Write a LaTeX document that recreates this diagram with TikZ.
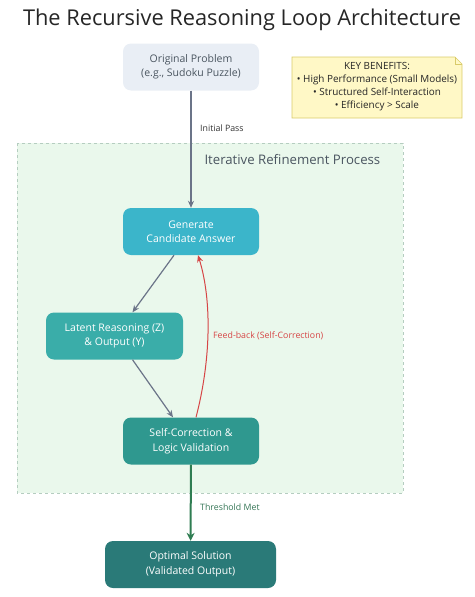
\documentclass[tikz,border=0pt]{standalone}
\usepackage{fontspec}
\setmainfont{Open Sans}
\usetikzlibrary{arrows.meta, positioning}

\definecolor{probfill}{HTML}{E9EEF5}
\definecolor{genfill}{HTML}{3BB5CA}
\definecolor{latfill}{HTML}{3AADA9}
\definecolor{chkfill}{HTML}{2F988F}
\definecolor{optfill}{HTML}{2A7A78}
\definecolor{zonefill}{HTML}{EAF8EC}
\definecolor{zoneline}{HTML}{B5CDC0}
\definecolor{notefill}{HTML}{FFF8C6}
\definecolor{noteline}{HTML}{D9CB6A}
\definecolor{flowline}{HTML}{6B7488}
\definecolor{feedred}{HTML}{D64545}
\definecolor{passgreen}{HTML}{2F7D52}
\definecolor{labelgrey}{HTML}{4A5560}

\begin{document}
\begin{tikzpicture}[
	x=1pt, y=-1pt,
	BoxNode/.style={rounded corners=8pt, align=center,
		minimum width=136pt, minimum height=47pt, inner sep=2pt,
		font=\fontsize{10.5}{14.5}\selectfont, text=white},
	FlowArrow/.style={draw=flowline, line width=1.2pt, -{Stealth[length=7pt,width=6pt]}},
	EdgeLabel/.style={anchor=west, font=\fontsize{8.8}{10}\selectfont, inner sep=0pt}
	]

\useasboundingbox (0,0) rectangle (474,597);

% title
\node (title) at (242,20) {\fontsize{21.8}{26}\selectfont\color{black!85}The Recursive Reasoning Loop Architecture};

% refinement zone
\draw [dashed, draw=zoneline, fill=zonefill, line width=0.6pt] (17,143) rectangle (403,493);
\node [anchor=west, font=\fontsize{13.2}{15}\selectfont, text=labelgrey] (zone) at (201,160) {Iterative Refinement Process};

% key benefits note
\draw [fill=notefill, draw=noteline, line width=0.6pt] (292,57) -- (455,57) -- (462,64) -- (462,118) -- (292,118) -- cycle;
\draw [draw=noteline, line width=0.6pt] (455,57) -- (455,64) -- (462,64);
\node [align=center, font=\fontsize{9.9}{13}\selectfont, text=black!85] (benefits) at (377,86.5)
	{KEY BENEFITS:\\ \textbullet{} High Performance (Small Models)\\ \textbullet{} Structured Self-Interaction\\ \textbullet{} Efficiency > Scale};

% boxes
\node [BoxNode, fill=probfill, text=labelgrey] (problem) at (191,67) {Original Problem\\(e.g., Sudoku Puzzle)};
\node [BoxNode, fill=genfill] (gen) at (191,231.5) {Generate\\Candidate Answer};
\node [BoxNode, fill=latfill, minimum width=137pt] (latent) at (114.5,336) {Latent Reasoning (Z)\\\& Output (Y)};
\node [BoxNode, fill=chkfill] (check) at (191,441) {Self-Correction \&\\Logic Validation};
\node [BoxNode, fill=optfill, minimum width=171pt] (optimal) at (190.5,564.5) {Optimal Solution\\(Validated Output)};

% connectors
\draw [FlowArrow] (problem) -- (gen);
\draw [FlowArrow] ([xshift=-17pt]gen.south) -- ([xshift=18pt]latent.north);
\draw [FlowArrow] ([xshift=18pt]latent.south) -- ([xshift=-18pt]check.north);
\draw [draw=feedred, line width=1pt, -{Stealth[length=7pt,width=6pt]}]
	([xshift=5pt]check.north) .. controls ([xshift=20pt]check.north |- 0,360) and ([xshift=21pt]gen.south |- 0,300) .. ([xshift=7pt]gen.south);
\draw [draw=passgreen, line width=2pt, -{Stealth[length=8pt,width=8pt]}] (check) -- (optimal);

% labels
\node [EdgeLabel, text=black!80] (pass) at (200,128) {Initial Pass};
\node [EdgeLabel, text=feedred] (feed) at (213,336) {Feed-back (Self-Correction)};
\node [EdgeLabel, text=passgreen!80!labelgrey] (met) at (200,507) {Threshold Met};

\end{tikzpicture}
\end{document}
